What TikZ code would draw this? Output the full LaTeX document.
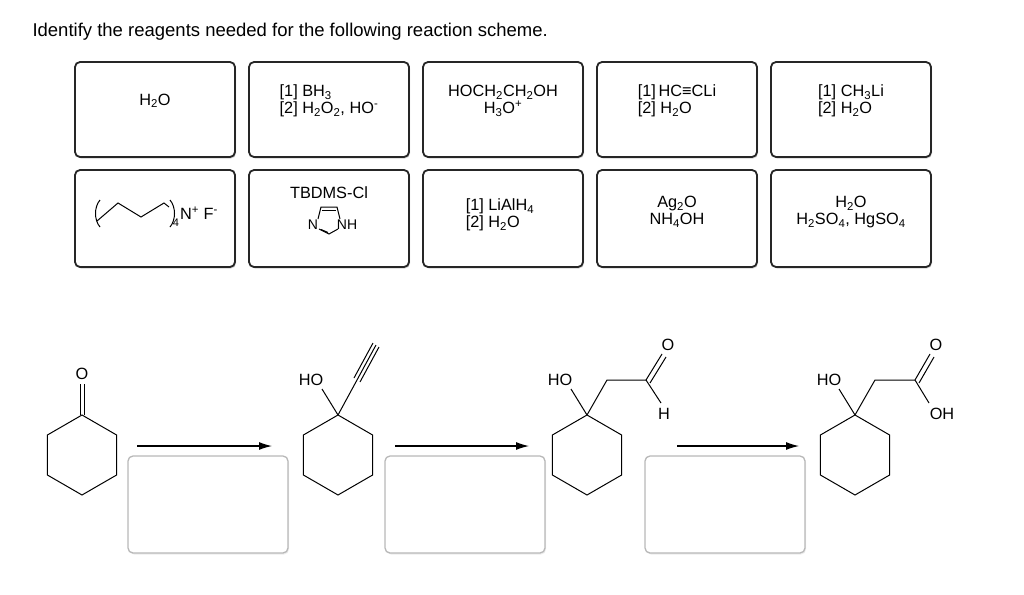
\documentclass[tikz,border=0pt]{standalone}
\usepackage{fontspec}
\setmainfont{Liberation Sans}
\usetikzlibrary{shadows,arrows.meta}
\newcommand{\sbs}[1]{\textsubscript{#1}}
\newcommand{\sps}[1]{\textsuperscript{#1}}
\begin{document}
\begin{tikzpicture}[x=1pt,y=-1pt,
 card/.style={draw=black!85,line width=1.8pt,rounded corners=5pt,fill=white,drop shadow={shadow xshift=1pt,shadow yshift=-1.5pt,opacity=.35}},
 ans/.style={draw=black!28,line width=1.3pt,rounded corners=5pt,fill=white,drop shadow={shadow xshift=1pt,shadow yshift=-1.5pt,opacity=.15}},
 txt/.style={font=\fontsize{16.3}{17}\selectfont,align=center,inner sep=0pt},
 bond/.style={line width=1pt},
 lab/.style={font=\fontsize{16.3}{17}\selectfont,inner sep=1pt},
 rx/.style={line width=1.2pt,-{Latex[length=13pt,width=8pt]}}]
\useasboundingbox (0,0) rectangle (1024,594);
\node[anchor=west,font=\fontsize{18.5}{19}\selectfont] (title) at (29,32) {Identify the reagents needed for the following reaction scheme.};
\foreach \x in {75,249,423,597,771}{
 \path[card] (\x,62) rectangle ++(160,95);
 \path[card] (\x,170) rectangle ++(160,97);
}
\node[txt] (c1) at (155,101) {H\sbs{2}O};
\node[txt,align=left] (c2) at (329,101) {[1] BH\sbs{3}\\{}[2] H\sbs{2}O\sbs{2}, HO\sps{-}};
\node[txt] (c3) at (503,101) {HOCH\sbs{2}CH\sbs{2}OH\\H\sbs{3}O\sps{+}};
\node[txt,align=left] (c4) at (677,101) {[1]\,HC≡CLi\\{}[2] H\sbs{2}O};
\node[txt,align=left] (c5) at (851,101) {[1] CH\sbs{3}Li\\{}[2] H\sbs{2}O};
\draw[bond] (100,200) .. controls (94,207) and (94,220) .. (100,227);
\draw[bond] (97,221) -- (118,203) -- (141,217) -- (164,203) -- (169,207);
\draw[bond] (170,200) .. controls (176,207) and (176,220) .. (170,227);
\node[font=\fontsize{11}{11}\selectfont,inner sep=0pt] (n4) at (176,223) {4};
\node[txt,anchor=west] (c6) at (180,213) {N\sps{+} F\sps{-}};
\node[txt] (c7) at (329,193) {TBDMS-Cl};
\node[font=\fontsize{14}{14}\selectfont,inner sep=0pt] (imN) at (313,225) {N};
\node[font=\fontsize{14}{14}\selectfont,inner sep=0pt] (imNH) at (347,225) {NH};
\draw[bond] (318,219) -- (321,207) -- (337,207) -- (340,219);
\draw[bond] (322,210.5) -- (336,210.5);
\draw[bond] (319,229) -- (329,234) -- (338,229);
\draw[bond] (321,229.5) -- (328,232.5);
\node[txt,align=left] (c8) at (500,215) {[1] LiAlH\sbs{4}\\{}[2] H\sbs{2}O};
\node[txt] (c9) at (677,212) {Ag\sbs{2}O\\NH\sbs{4}OH};
\node[txt] (c10) at (851,212) {H\sbs{2}O\\H\sbs{2}SO\sbs{4}, HgSO\sbs{4}};
\path[ans] (128,456) rectangle (288,553);
\path[ans] (385,456) rectangle (545,553);
\path[ans] (645,456) rectangle (805,553);
\coordinate (a1s) at (137,446); \coordinate (a1e) at (272,446);
\coordinate (a2s) at (395,446); \coordinate (a2e) at (529,446);
\coordinate (a3s) at (677,446); \coordinate (a3e) at (799,446);
\draw[rx] (a1s) -- (a1e);
\draw[rx] (a2s) -- (a2e);
\draw[rx] (a3s) -- (a3e);
\foreach \cx in {82,338,587,855}{
 \draw[bond] (\cx,415) -- (\cx+34.6,435) -- (\cx+34.6,475) -- (\cx,495) -- (\cx-34.6,475) -- (\cx-34.6,435) -- cycle;
}
\node[lab] (o1) at (82,374) {O};
\draw[bond] (80,415) -- (80,384); \draw[bond] (84,415) -- (84,384);
\node[lab] (ho2) at (311,380) {HO};
\draw[bond] (338,415) -- (322,389);
\draw[bond] (338,415) -- (357,380);
\draw[bond] (354,378) -- (373,343); \draw[bond] (357,380) -- (376,345); \draw[bond] (360,382) -- (379,347);
\node[lab] (ho3) at (560,380) {HO};
\draw[bond] (587,415) -- (571,389);
\draw[bond] (587,415) -- (607,380) -- (646,380);
\draw[bond] (646,380) -- (662,354); \draw[bond] (650,383) -- (666,357);
\node[lab] (o3) at (668,345) {O};
\draw[bond] (646,380) -- (661,403);
\node[lab] (h3) at (664,414) {H};
\node[lab] (ho4) at (829,380) {HO};
\draw[bond] (855,415) -- (839,389);
\draw[bond] (855,415) -- (875,380) -- (915,380);
\draw[bond] (915,380) -- (930,354); \draw[bond] (919,383) -- (934,357);
\node[lab] (o4) at (936,345) {O};
\draw[bond] (915,380) -- (929,403);
\node[lab] (oh4) at (942,414) {OH};
\end{tikzpicture}
\end{document}
